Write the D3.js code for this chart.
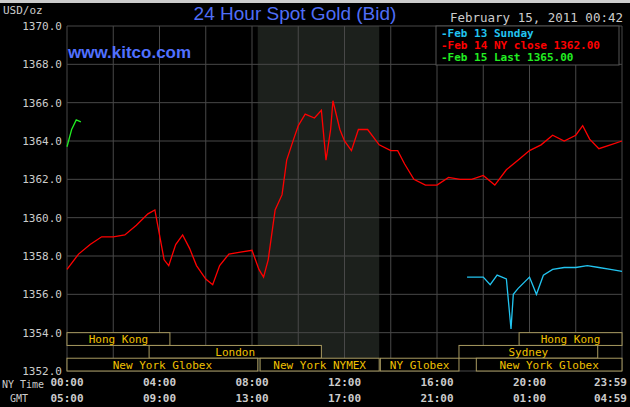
<!DOCTYPE html><html><head><meta charset="utf-8">
<script src="https://cdn.jsdelivr.net/npm/d3@7"></script>
<style>body{margin:0;background:#000}</style></head><body><svg id="c" width="630" height="407"></svg>
<script>
const yTicks=[1352,1354,1356,1358,1360,1362,1364,1366,1368,1370];
const nyLabels=["00:00","04:00","08:00","12:00","16:00","20:00","23:59"];
const gmtLabels=["05:00","09:00","13:00","17:00","21:00","01:00","04:59"];
const labelHours=[0,4,8,12,16,20,24];
const redHours=[0,0.5,1,1.5,2,2.5,3,3.5,3.8,4,4.2,4.4,4.7,5,5.3,5.6,6,6.3,6.6,7,7.5,8,8.3,8.5,8.7,9,9.3,9.5,9.8,10,10.3,10.7,11,11.2,11.4,11.5,11.8,12,12.3,12.6,13,13.5,14,14.3,14.6,15,15.5,16,16.5,17,17.5,18,18.5,19,19.5,20,20.5,21,21.5,22,22.3,22.6,23,23.5,24];
const redVals=[1357.3,1358.1,1358.6,1359,1359,1359.1,1359.6,1360.2,1360.4,1359.1,1357.8,1357.5,1358.6,1359.1,1358.4,1357.5,1356.8,1356.5,1357.5,1358.1,1358.2,1358.3,1357.3,1356.9,1357.8,1360.4,1361.2,1363,1364.1,1364.8,1365.4,1365.2,1365.6,1363,1364.6,1366.1,1364.6,1364,1363.5,1364.6,1364.6,1363.8,1363.5,1363.5,1362.8,1362,1361.7,1361.7,1362.1,1362,1362,1362.2,1361.7,1362.5,1363,1363.5,1363.8,1364.3,1364,1364.3,1364.8,1364.1,1363.6,1363.8,1364];
const blueHours=[17.3,18,18.3,18.6,19,19.2,19.3,19.5,20,20.3,20.6,21,21.5,22,22.5,23,23.5,24];
const blueVals=[1356.9,1356.9,1356.5,1357,1356.8,1354.2,1356,1356.3,1356.9,1356,1357,1357.3,1357.4,1357.4,1357.5,1357.4,1357.3,1357.2];
const greenHours=[0,0.2,0.4,0.6];
const greenVals=[1363.7,1364.6,1365.1,1365];
const sessions=[["Hong Kong",0,4.45,0],["Hong Kong",19.55,24,0],["London",3.55,11,1],["Sydney",16.95,22.95,1],["New York Globex",0,8.25,2],["New York NYMEX",8.35,13.5,2],["NY Globex",13.55,16.95,2],["New York Globex",17.7,24,2]];

const svg=d3.select("#c");
const L=67,R=622,T=26,B=371;
const x=d3.scaleLinear().domain([0,24]).range([L,R]);
const y=d3.scaleLinear().domain([1352,1370]).range([B,T]);
const mono="DejaVu Sans Mono";
svg.append("rect").attr("x",0).attr("y",0).attr("width",630).attr("height",3).attr("fill","#ccc");
svg.append("rect").attr("x",x(8.25)).attr("y",T).attr("width",x(13.5)-x(8.25)).attr("height",B-T).attr("fill","#1c201c");
const g=svg.append("g");
d3.range(0,25,2).forEach(h=>g.append("line").attr("x1",x(h)).attr("x2",x(h)).attr("y1",T).attr("y2",B).attr("stroke","#484848"));
yTicks.forEach(v=>{g.append("line").attr("x1",L).attr("x2",R).attr("y1",y(v)).attr("y2",y(v)).attr("stroke","#484848");
 svg.append("text").attr("x",L-5).attr("y",y(v)+4).attr("text-anchor","end").attr("fill","#ccc").attr("font-family",mono).attr("font-size",11).text(v.toFixed(1));});
svg.append("text").attr("x",3).attr("y",14).attr("fill","#ccc").attr("font-family",mono).attr("font-size",11).text("USD/oz");
const rowH=(y(1352)-y(1354))/3;
sessions.forEach(s=>{const yy=y(1354)+s[3]*rowH;
 svg.append("rect").attr("x",x(s[1])).attr("y",yy).attr("width",x(s[2])-x(s[1])).attr("height",rowH).attr("fill","#000").attr("stroke","#a89a60");
 svg.append("text").attr("x",(x(s[1])+x(s[2]))/2).attr("y",yy+rowH-2.5).attr("text-anchor","middle").attr("fill","#f0c000").attr("font-family",mono).attr("font-size",11).text(s[0]);});
labelHours.forEach((h,i)=>{
 svg.append("text").attr("x",x(h)).attr("y",386).attr("text-anchor",i==6?"end":"middle").attr("dx",i==6?5:0).attr("fill","#ccc").attr("font-family",mono).attr("font-weight","bold").attr("font-size",11).text(nyLabels[i]);
 svg.append("text").attr("x",x(h)).attr("y",402).attr("text-anchor",i==6?"end":"middle").attr("dx",i==6?5:0).attr("fill","#ccc").attr("font-family",mono).attr("font-weight","bold").attr("font-size",11).text(gmtLabels[i]);});
svg.append("text").attr("x",2).attr("y",388).attr("fill","#ccc").attr("font-family",mono).attr("font-size",10).text("NY Time");
svg.append("text").attr("x",10).attr("y",402).attr("fill","#ccc").attr("font-family",mono).attr("font-size",10).text("GMT");
const line=d3.line().x(d=>x(d[0])).y(d=>y(d[1]));
[[redHours,redVals,"#ff0000"],[blueHours,blueVals,"#22c4f0"],[greenHours,greenVals,"#22ee22"]].forEach(([h,v,c])=>
 svg.append("path").attr("d",line(h.map((t,i)=>[t,v[i]]))).attr("fill","none").attr("stroke",c).attr("stroke-width",1.3));
svg.append("text").attr("x",295).attr("y",20).attr("text-anchor","middle").attr("fill","#4f6ef7").attr("font-family","Liberation Sans").attr("font-size",19).text("24 Hour Spot Gold (Bid)");
svg.append("text").attr("x",68).attr("y",58).attr("fill","#5070ff").attr("font-family","Liberation Sans").attr("font-weight","bold").attr("font-size",17).text("www.kitco.com");
svg.append("text").attr("x",623).attr("y",22).attr("text-anchor","end").attr("fill","#ccc").attr("font-family",mono).attr("font-size",12.5).text("February 15, 2011 00:42");
svg.append("rect").attr("x",436).attr("y",26).attr("width",183).attr("height",39).attr("fill","#000").attr("stroke","#555");
[["-Feb 13 Sunday","#22c4f0"],["-Feb 14 NY close 1362.00","#ff0000"],["-Feb 15 Last 1365.00","#22ee22"]].forEach((t,i)=>
 svg.append("text").attr("x",441).attr("y",37+i*12).attr("fill",t[1]).attr("font-family",mono).attr("font-weight","bold").attr("font-size",11).text(t[0]));
</script></body></html>
